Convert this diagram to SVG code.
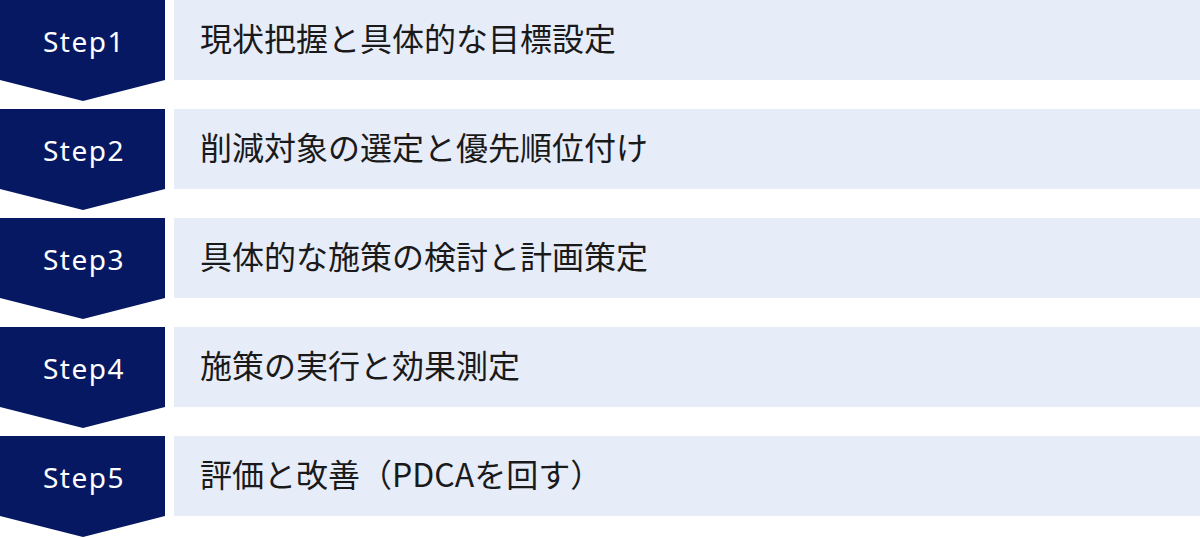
<svg xmlns="http://www.w3.org/2000/svg" width="1200" height="538" viewBox="0 0 1200 538">
<defs>
<style>
.arrow{fill:#061862}
.box{fill:#e7ecf9}
.step{font-family:"Noto Sans","Noto Sans CJK JP",sans-serif;font-size:28px;font-weight:400;fill:#ffffff;letter-spacing:1.5px;text-anchor:middle}
.label{font-family:"Noto Sans CJK JP","Noto Sans",sans-serif;font-size:32px;fill:#1a1a1a}
</style>
<polygon id="chev" points="0,0 165,0 165,80 83,101 0,80"/>
</defs>
<rect width="1200" height="538" fill="#ffffff"/>
<g id="connectors"></g>
<g id="step1">
<use href="#chev" class="arrow"/>
<rect class="box" x="174" y="0" width="1026" height="80"/>
<text class="step" x="84" y="52">Step1</text>
<text class="label" x="200" y="51">現状把握と具体的な目標設定</text>
</g>
<g id="step2" transform="translate(0,109)">
<use href="#chev" class="arrow"/>
<rect class="box" x="174" y="0" width="1026" height="80"/>
<text class="step" x="84" y="52">Step2</text>
<text class="label" x="200" y="51">削減対象の選定と優先順位付け</text>
</g>
<g id="step3" transform="translate(0,218)">
<use href="#chev" class="arrow"/>
<rect class="box" x="174" y="0" width="1026" height="80"/>
<text class="step" x="84" y="52">Step3</text>
<text class="label" x="200" y="51">具体的な施策の検討と計画策定</text>
</g>
<g id="step4" transform="translate(0,327)">
<use href="#chev" class="arrow"/>
<rect class="box" x="174" y="0" width="1026" height="80"/>
<text class="step" x="84" y="52">Step4</text>
<text class="label" x="200" y="51">施策の実行と効果測定</text>
</g>
<g id="step5" transform="translate(0,436)">
<use href="#chev" class="arrow"/>
<rect class="box" x="174" y="0" width="1026" height="80"/>
<text class="step" x="84" y="52">Step5</text>
<text class="label" x="200" y="51">評価と改善（PDCAを回す）</text>
</g>
</svg>
